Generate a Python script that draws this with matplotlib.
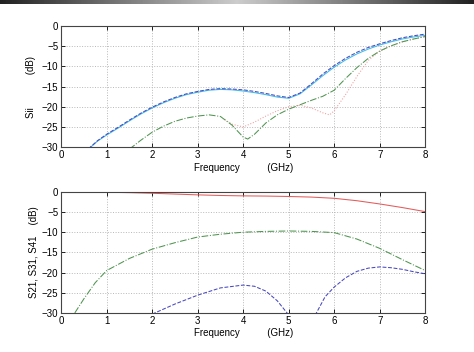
import numpy as np
import matplotlib
matplotlib.use('Agg')
import matplotlib.pyplot as plt

plt.rcParams['font.family'] = ['Liberation Sans', 'DejaVu Sans']
plt.rcParams['font.size'] = 7

# Top panel: reflection coefficients Sii (dB)
f_s11 = [0.6, 0.8, 1.0, 1.25, 1.5, 1.75, 2.0, 2.25, 2.5, 2.75, 3.0, 3.25, 3.5, 3.75, 4.0, 4.25,
         4.5, 4.75, 5.0, 5.25, 5.5, 5.75, 6.0, 6.25, 6.5, 6.75, 7.0, 7.25, 7.5, 7.75, 8.0]
s11 = [-30.5, -28.5, -27.0, -25.3, -23.5, -21.8, -20.3, -19.0, -17.9, -17.0, -16.4, -15.9, -15.7,
       -15.8, -16.1, -16.5, -17.0, -17.6, -17.9, -16.8, -14.6, -12.3, -10.2, -8.4, -6.9, -5.7,
       -4.7, -3.9, -3.2, -2.7, -2.3]
s22 = [-30.4, -28.4, -26.8, -25.1, -23.3, -21.6, -20.1, -18.8, -17.7, -16.8, -16.2, -15.7, -15.5,
       -15.6, -15.8, -16.2, -16.7, -17.3, -17.7, -16.6, -14.3, -11.9, -9.8, -8.0, -6.5, -5.3,
       -4.4, -3.6, -2.9, -2.4, -2.0]
f_s33 = [1.5, 1.75, 2.0, 2.25, 2.5, 2.75, 3.0, 3.25, 3.5, 3.75, 4.0, 4.1, 4.25, 4.5, 4.75, 5.0,
         5.25, 5.5, 5.75, 6.0, 6.25, 6.5, 6.75, 7.0, 7.25, 7.5, 7.75, 8.0]
s33 = [-30.5, -28.3, -26.3, -24.8, -23.6, -22.8, -22.3, -22.0, -22.4, -24.5, -27.5, -28.0, -26.8,
       -24.0, -22.0, -20.6, -19.5, -18.4, -17.4, -15.9, -13.0, -10.3, -8.0, -6.2, -4.9, -3.9,
       -3.2, -2.6]
f_s44 = [3.6, 3.75, 4.0, 4.25, 4.5, 4.75, 5.0, 5.25, 5.5, 5.75, 5.9, 6.0, 6.25, 6.5, 6.75, 7.0,
         7.25, 7.5, 7.75, 8.0]
s44 = [-23.2, -24.3, -25.0, -23.8, -22.3, -21.0, -20.0, -19.6, -20.3, -21.5, -22.0, -21.0,
       -17.0, -12.5, -8.5, -6.2, -4.9, -3.9, -3.2, -2.6]

# Bottom panel: S21, S31, S41 (dB)
f_s21 = [0, 0.5, 1.0, 1.5, 2.0, 2.5, 3.0, 3.5, 4.0, 4.5, 5.0, 5.5, 6.0, 6.5, 7.0, 7.5, 8.0]
s21 = [0.0, -0.05, -0.1, -0.2, -0.35, -0.55, -0.75, -0.9, -1.0, -1.05, -1.15, -1.3, -1.6,
       -2.2, -3.0, -3.9, -4.9]
f_s31 = [0.3, 0.5, 0.75, 1.0, 1.25, 1.5, 2.0, 2.5, 3.0, 3.5, 4.0, 4.5, 5.0, 5.5, 6.0, 6.5,
         7.0, 7.5, 8.0]
s31 = [-30.0, -26.5, -22.5, -19.5, -18.0, -16.5, -14.2, -12.6, -11.2, -10.5, -10.0, -9.8,
       -9.7, -9.8, -10.1, -11.7, -14.0, -16.8, -19.5]
f_s41 = [2.0, 2.5, 3.0, 3.5, 4.0, 4.25, 4.5, 4.75, 5.0, 5.3, 5.6, 5.8, 6.0, 6.25, 6.5, 6.75,
         7.0, 7.25, 7.5, 7.75, 8.0]
s41 = [-30.3, -27.8, -25.6, -23.8, -23.1, -23.4, -24.6, -27.0, -30.5, -36.0, -30.2, -26.0,
       -23.6, -21.3, -19.7, -18.9, -18.6, -18.8, -19.2, -19.8, -20.3]

fig = plt.figure(figsize=(4.74, 3.52), dpi=100)

# dark gradient band at the very top
band = fig.add_axes([0, 0.99, 1, 0.01])
grad = np.abs(np.linspace(-1, 1, 256))
band.imshow(grad[np.newaxis, :], aspect='auto', cmap='gray_r', vmin=-0.3, vmax=1.2)
band.axis('off')

ax1 = fig.add_axes([0.129, 0.582, 0.768, 0.344])
ax2 = fig.add_axes([0.129, 0.111, 0.768, 0.344])

lw = 0.75
ax1.plot(f_s11, s11, '-', color='#3dbde8', lw=lw)
ax1.plot(f_s44, s44, ':', color='#f29a9a', lw=lw)
ax1.plot(f_s33, s33, '-.', color='#4f9450', lw=lw)
ax1.plot(f_s11, s22, '--', color='#4848c0', lw=lw)

ax2.plot(f_s21, s21, '-', color='#e45a5a', lw=lw)
ax2.plot(f_s31, s31, '-.', color='#4f9450', lw=lw)
ax2.plot(f_s41, s41, '--', color='#4848c0', lw=lw)

for ax in (ax1, ax2):
    ax.set_xlim(0, 8)
    ax.set_ylim(-30, 0)
    ax.set_xticks(range(0, 9))
    ax.set_yticks(range(-30, 1, 5))
    ax.grid(True, linestyle=':', color='#b8b8b8', lw=0.7)
    ax.tick_params(direction='in', top=True, right=True, length=3, width=0.6, labelsize=7, pad=2)
    for sp in ax.spines.values():
        sp.set_linewidth(0.8)
        sp.set_color('#444444')
    ax.set_xlabel('Frequency          (GHz)', fontsize=7, labelpad=2)

ax1.set_ylabel('Sii            (dB)', fontsize=7, labelpad=4)
ax2.set_ylabel('S21, S31, S41    (dB)', fontsize=7, labelpad=2)

fig.savefig('out.png', dpi=100)
